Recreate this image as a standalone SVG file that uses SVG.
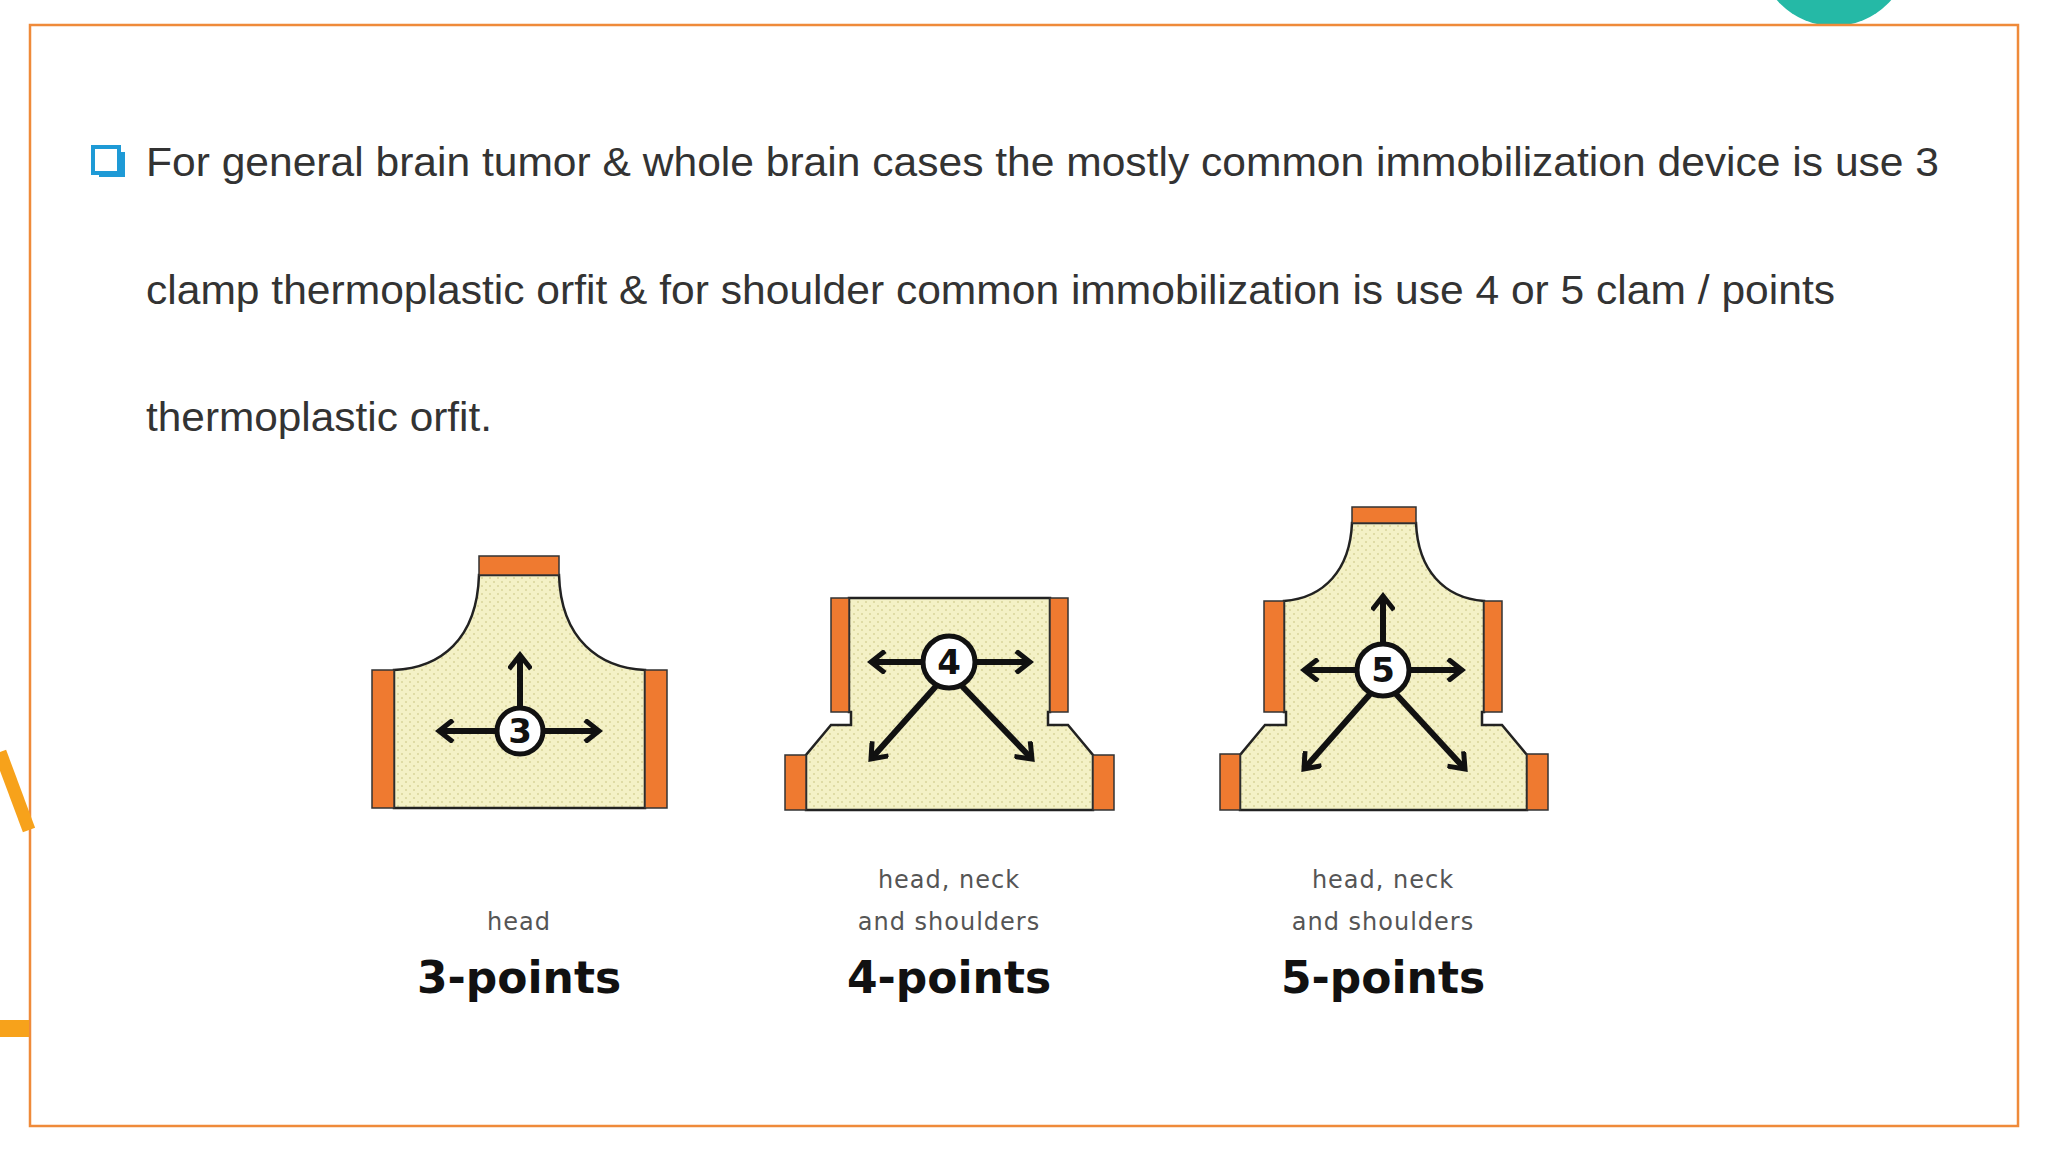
<svg xmlns="http://www.w3.org/2000/svg" width="2048" height="1152" viewBox="0 0 2048 1152">
<defs>
<pattern id="dots" width="8" height="8" patternUnits="userSpaceOnUse">
<rect width="8" height="8" fill="#f4f1c6"/>
<circle cx="2" cy="2" r="1" fill="#d9d49a"/>
<circle cx="6" cy="6" r="1" fill="#d9d49a"/>
</pattern>
<marker id="ah" viewBox="0 0 24 24" refX="20" refY="12" markerWidth="24" markerHeight="24" markerUnits="userSpaceOnUse" orient="auto">
<path d="M6,1 L20,12 L6,23" fill="none" stroke="#111" stroke-width="5"/>
</marker>
<style>
.body{fill:url(#dots);stroke:#222;stroke-width:2.5}
.bar{fill:#ef7a30;stroke:#333;stroke-width:1.5}
.arr{stroke:#111;stroke-width:6;fill:none;marker-end:url(#ah)}
.num{fill:#fff;stroke:#111;stroke-width:5}
.numt{font-family:"DejaVu Sans",sans-serif;font-weight:bold;font-size:34px;text-anchor:middle;fill:#111}
.cap{font-family:"DejaVu Sans",sans-serif;font-size:24px;fill:#555;text-anchor:middle;letter-spacing:1px}
.big{font-family:"DejaVu Sans",sans-serif;font-weight:bold;font-size:44px;fill:#111;text-anchor:middle}
.txt{font-family:"Liberation Sans",Arial,sans-serif;font-size:41px;fill:#333}
</style>
</defs>
<rect width="2048" height="1152" fill="#fff"/>
<circle cx="1834" cy="-50" r="76" fill="#25b9a6"/>
<rect x="30" y="25" width="1988" height="1101" fill="none" stroke="#ef8a3a" stroke-width="2.5"/>
<line x1="0" y1="752" x2="29" y2="830" stroke="#f7a21b" stroke-width="13"/>
<rect x="0" y="1020" width="29" height="17" fill="#f7a21b"/>
<g id="text">
<rect x="93" y="147" width="26" height="26" fill="#fff" stroke="#1e9ad6" stroke-width="4"/>
<path d="M99,175 L123,175 L123,152" fill="none" stroke="#1e9ad6" stroke-width="4"/>
<text class="txt" x="146" y="176" textLength="1793" lengthAdjust="spacingAndGlyphs">For general brain tumor &amp; whole brain cases the mostly common immobilization device is use 3</text>
<text class="txt" x="146" y="304" textLength="1689" lengthAdjust="spacingAndGlyphs">clamp thermoplastic orfit &amp; for shoulder common immobilization is use 4 or 5 clam / points</text>
<text class="txt" x="146" y="431" textLength="346" lengthAdjust="spacingAndGlyphs">thermoplastic orfit.</text>
</g>
<g id="node3">
<path class="body" d="M479,575 L559,575 C561,640 600,668 645,670 L645,808 L394,808 L394,670 C440,668 477,640 479,575 Z"/>
<rect class="bar" x="479" y="556" width="80" height="19"/>
<rect class="bar" x="372" y="670" width="22" height="138"/>
<rect class="bar" x="645" y="670" width="22" height="138"/>
<line x1="520" y1="708" x2="520" y2="655" class="arr"/>
<line x1="497" y1="731" x2="439" y2="731" class="arr"/>
<line x1="543" y1="731" x2="599" y2="731" class="arr"/>
<circle class="num" cx="520" cy="731" r="23"/>
<text class="numt" x="520" y="743">3</text>
<text class="cap" x="519" y="930">head</text>
<text class="big" x="519" y="993">3-points</text>
</g>
<g id="node4">
<path class="body" d="M849,598 L1050,598 L1050,712 L1048,712 L1048,725 L1068,725 L1093,755 L1093,810 L806,810 L806,755 L831,725 L851,725 L851,712 L849,712 Z"/>
<rect class="bar" x="831" y="598" width="18" height="114"/>
<rect class="bar" x="1050" y="598" width="18" height="114"/>
<rect class="bar" x="785" y="755" width="21" height="55"/>
<rect class="bar" x="1093" y="755" width="21" height="55"/>
<line x1="923" y1="662" x2="871" y2="662" class="arr"/>
<line x1="975" y1="662" x2="1030" y2="662" class="arr"/>
<line x1="937" y1="685" x2="871" y2="759" class="arr"/>
<line x1="961" y1="685" x2="1032" y2="759" class="arr"/>
<circle class="num" cx="949" cy="662" r="26"/>
<text class="numt" x="949" y="674">4</text>
<text class="cap" x="949" y="888">head, neck</text>
<text class="cap" x="949" y="930">and shoulders</text>
<text class="big" x="949" y="993">4-points</text>
</g>
<g id="node5">
<path class="body" d="M1352,523 L1416,523 C1418,570 1444,598 1484,601 L1484,712 L1482,712 L1482,725 L1502,725 L1527,755 L1527,810 L1240,810 L1240,755 L1265,725 L1286,725 L1286,712 L1284,712 L1284,601 C1324,598 1350,570 1352,523 Z"/>
<rect class="bar" x="1352" y="507" width="64" height="16"/>
<rect class="bar" x="1264" y="601" width="20" height="111"/>
<rect class="bar" x="1484" y="601" width="18" height="111"/>
<rect class="bar" x="1220" y="754" width="20" height="56"/>
<rect class="bar" x="1527" y="754" width="21" height="56"/>
<line x1="1383" y1="644" x2="1383" y2="596" class="arr"/>
<line x1="1357" y1="670" x2="1304" y2="670" class="arr"/>
<line x1="1409" y1="670" x2="1462" y2="670" class="arr"/>
<line x1="1371" y1="693" x2="1304" y2="769" class="arr"/>
<line x1="1395" y1="693" x2="1465" y2="769" class="arr"/>
<circle class="num" cx="1383" cy="670" r="26"/>
<text class="numt" x="1383" y="682">5</text>
<text class="cap" x="1383" y="888">head, neck</text>
<text class="cap" x="1383" y="930">and shoulders</text>
<text class="big" x="1383" y="993">5-points</text>
</g>
</svg>
